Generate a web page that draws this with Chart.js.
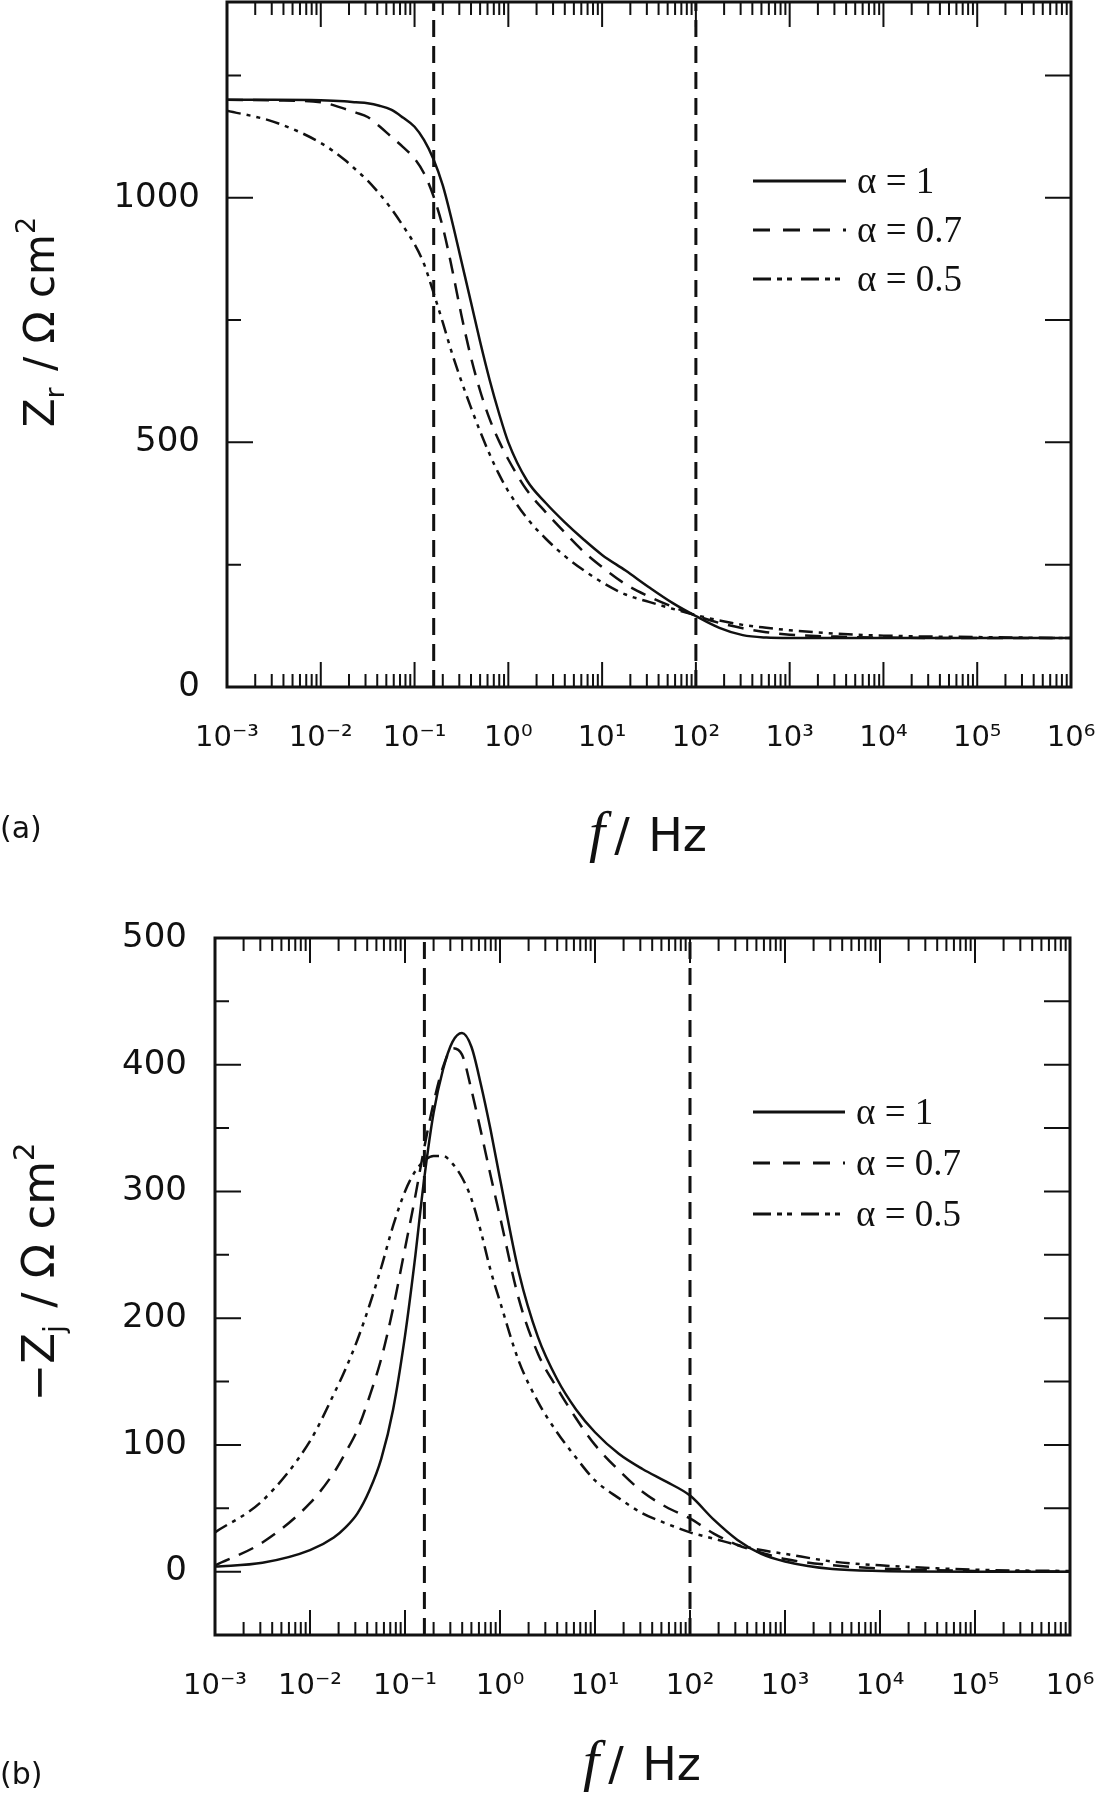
<!DOCTYPE html>
<html>
<head>
<meta charset="utf-8">
<title>Zr and -Zj vs frequency</title>
<script src="https://cdn.jsdelivr.net/npm/chart.js@4.4.1/dist/chart.umd.min.js"></script>
<style>
  html, body { margin: 0; padding: 0; background: #fff; }
  body { width: 1098px; height: 1800px; position: relative; overflow: hidden; }
  canvas { position: absolute; left: 0; }
  #chartA { top: 0; }
  #chartB { top: 870px; }
</style>
</head>
<body>
<canvas id="chartA" width="1098" height="870"></canvas>
<canvas id="chartB" width="1098" height="930"></canvas>
<script>
/* ─── Data ─── */
const freqs = [0.001, 0.00316, 0.01, 0.0178, 0.0237, 0.0316, 0.0422, 0.0562, 0.075, 0.1,
               0.126, 0.158, 0.2, 0.251, 0.316, 0.398, 0.501, 0.631, 0.794, 1,
               1.58, 2.51, 3.98, 6.31, 10, 17.8, 31.6, 56.2, 100, 178,
               316, 562, 1000, 3162, 10000, 100000, 1000000];

const seriesLabels = ["α = 1", "α = 0.7", "α = 0.5"];

// panel (a): Zr / Ω cm²
const zrAlpha1  = [1200, 1200, 1199, 1197, 1195, 1193, 1188, 1180, 1164, 1145,
                   1118, 1080, 1025, 952, 870, 788, 705, 628, 560, 500,
                   422, 376, 337, 302, 270, 238, 204, 172, 145, 121,
                   106, 101, 100, 100, 100, 100, 100];
const zrAlpha07 = [1200, 1199, 1195, 1182, 1174, 1165, 1146, 1125, 1104, 1080,
                   1050, 1005, 940, 855, 760, 675, 605, 548, 503, 465,
                   402, 357, 316, 277, 245, 210, 185, 164, 146, 131,
                   120, 112, 107, 103, 101, 100, 100];
const zrAlpha05 = [1178, 1155, 1112, 1078, 1057, 1035, 1008, 978, 943, 905,
                   865, 808, 745, 682, 625, 572, 522, 476, 435, 400,
                   345, 303, 268, 239, 214, 189, 174, 160, 147, 136,
                   127, 121, 116, 109, 105, 102, 100];

// panel (b): -Zj / Ω cm²
const zjAlpha1  = [4, 7, 17, 27, 35, 46, 64, 89, 128, 186,
                   244, 308, 362, 396, 418, 425, 414, 384, 349, 310,
                   236, 185, 152, 128, 110, 93, 81, 71, 60, 41,
                   25, 14, 8, 2, 0.5, 0, 0];
const zjAlpha07 = [5, 23, 54, 78, 94, 112, 138, 168, 208, 255,
                   293, 333, 370, 398, 413, 408, 380, 347, 313, 280,
                   215, 172, 145, 121, 100, 80, 63, 51, 42, 30,
                   21, 15, 10, 5, 2.5, 0.5, 0];
const zjAlpha05 = [31, 56, 103, 140, 160, 183, 210, 240, 273, 300,
                   315, 324, 328, 328, 322, 311, 294, 268, 238, 213,
                   166, 134, 110, 90, 72, 58, 46, 38, 31, 26,
                   21, 17, 14, 8, 5, 1.5, 0.5];

// vertical marker frequencies (Hz)
const markerFreqs = [0.16, 100];

// axis ticks
const decadeExps = [-3, -2, -1, 0, 1, 2, 3, 4, 5, 6];
const zrTicks = [0, 500, 1000];
const zjTicks = [0, 100, 200, 300, 400, 500];

/* ─── Style ─── */
const INK = "#111";
const SANS = "'DejaVu Sans', sans-serif";
const SERIF = "'Liberation Serif', serif";
const lineDash = [[], [16, 10], [14, 6, 4, 6, 4, 6]];
const legendDash = [[], [17, 13], [18, 6, 5, 5, 5, 9]];

const SUP = { "-": "⁻", "0": "⁰", "1": "¹", "2": "²", "3": "³", "4": "⁴", "5": "⁵", "6": "⁶" };
const toSup = n => String(n).split("").map(c => SUP[c]).join("");

/* ─── Plugins ─── */
// inward ticks on all four sides + frame
const frameTicks = {
  id: "frameTicks",
  afterDatasetsDraw(chart, args, o) {
    const { ctx, chartArea: a } = chart;
    const x = chart.scales.x, y = chart.scales.y;
    ctx.save();
    ctx.strokeStyle = INK;
    ctx.lineWidth = 2;
    ctx.setLineDash([]);
    ctx.beginPath();
    decadeExps.forEach(e => {
      for (let k = 1; k <= 9; k++) {
        const v = k * Math.pow(10, e);
        if (v > x.max * 1.001) break;
        const px = x.getPixelForValue(v);
        const len = k === 1 ? 25 : 13;
        ctx.moveTo(px, a.bottom); ctx.lineTo(px, a.bottom - len);
        ctx.moveTo(px, a.top);    ctx.lineTo(px, a.top + len);
      }
    });
    for (let v = y.min + o.minorStep; v < y.max; v += o.minorStep) {
      const py = y.getPixelForValue(v);
      const major = Math.abs(v % o.majorStep) < 1e-6;
      ctx.moveTo(a.left, py);  ctx.lineTo(a.left + (major ? 26 : 14), py);
      ctx.moveTo(a.right, py); ctx.lineTo(a.right - 26, py);
    }
    ctx.stroke();
    ctx.lineWidth = 3;
    ctx.strokeRect(a.left, a.top, a.right - a.left, a.bottom - a.top);
    ctx.restore();
  }
};

// legend drawn inside the plot
const inlineLegend = {
  id: "inlineLegend",
  afterDraw(chart, args, o) {
    const ctx = chart.ctx;
    ctx.save();
    ctx.strokeStyle = INK;
    ctx.fillStyle = INK;
    ctx.lineWidth = 3;
    ctx.font = "37px " + SERIF;
    ctx.textBaseline = "alphabetic";
    seriesLabels.forEach((label, i) => {
      const yy = o.top + i * o.gap;
      ctx.setLineDash(legendDash[i]);
      ctx.beginPath();
      ctx.moveTo(o.x0, yy);
      ctx.lineTo(o.x1, yy);
      ctx.stroke();
      ctx.setLineDash([]);
      ctx.fillText(label, o.textX, yy + 12);
    });
    ctx.restore();
  }
};

// axis titles with sub/superscripts, panel tag
function drawRuns(ctx, runs, cx, baseY, rotate) {
  const fontOf = r => (r.italic ? "italic " : "") + (r.size || 40) + "px " + (r.family || SANS);
  let total = 0;
  runs.forEach(r => { ctx.font = fontOf(r); r.w = ctx.measureText(r.t).width; total += r.w + (r.gap || 0); });
  ctx.save();
  ctx.translate(cx, baseY);
  if (rotate) ctx.rotate(-Math.PI / 2);
  let sx = -total / 2;
  runs.forEach(r => {
    ctx.font = fontOf(r);
    ctx.fillText(r.t, sx, r.dy || 0);
    sx += r.w + (r.gap || 0);
  });
  ctx.restore();
}

const axisTitles = {
  id: "axisTitles",
  afterDraw(chart, args, o) {
    const ctx = chart.ctx;
    ctx.save();
    ctx.fillStyle = INK;
    ctx.textBaseline = "alphabetic";
    drawRuns(ctx, [
      { t: "f", italic: true, family: SERIF, size: 58, gap: 9 },
      { t: "/ ", size: 46, gap: 4 },
      { t: "Hz", size: 46 }
    ], o.xCx, o.xY, false);
    drawRuns(ctx, o.yRuns, o.yBase, o.yCy, true);
    ctx.font = "30px " + SANS;
    ctx.fillText(o.tag, 0, o.tagY);
    ctx.restore();
  }
};

/* ─── Chart builder ─── */
function makePanel(canvasId, cfg) {
  const curves = [cfg.s1, cfg.s07, cfg.s05].map((vals, i) => ({
    label: seriesLabels[i],
    data: freqs.map((f, j) => ({ x: f, y: vals[j] })),
    borderColor: INK,
    borderWidth: 2.5,
    borderDash: lineDash[i],
    pointRadius: 0,
    fill: false,
    cubicInterpolationMode: "monotone"
  }));
  const markers = markerFreqs.map(f => ({
    label: "marker",
    data: [{ x: f, y: cfg.yMin }, { x: f, y: cfg.yMax }],
    borderColor: INK,
    borderWidth: 3,
    borderDash: [17, 9],
    pointRadius: 0,
    fill: false
  }));

  return new Chart(document.getElementById(canvasId), {
    type: "line",
    data: { datasets: [...curves, ...markers] },
    options: {
      responsive: false,
      animation: false,
      devicePixelRatio: 1,
      layout: { padding: { left: 0, right: cfg.padRight, top: cfg.padTop, bottom: 0 } },
      plugins: {
        legend: { display: false },
        tooltip: { enabled: false },
        frameTicks: { minorStep: cfg.minorStep, majorStep: cfg.majorStep },
        inlineLegend: cfg.legend,
        axisTitles: cfg.titles
      },
      scales: {
        x: {
          type: "logarithmic",
          min: 1e-3, max: 1e6,
          grid: { display: false, drawTicks: false },
          border: { display: false },
          afterBuildTicks: s => { s.ticks = decadeExps.map(e => ({ value: Math.pow(10, e) })); },
          afterFit: s => { s.height = cfg.xHeight; s.paddingLeft = 0; s.paddingRight = 0; },
          ticks: {
            autoSkip: false, maxRotation: 0, padding: 34,
            color: INK, font: { family: SANS, size: 29 },
            callback: v => "10" + toSup(Math.round(Math.log10(v)))
          }
        },
        y: {
          type: "linear",
          min: cfg.yMin, max: cfg.yMax,
          grid: { display: false, drawTicks: false },
          border: { display: false },
          afterBuildTicks: s => { s.ticks = cfg.yTicks.map(v => ({ value: v })); },
          afterFit: s => { s.width = cfg.yWidth; s.paddingTop = 0; s.paddingBottom = 0; },
          ticks: {
            padding: cfg.yPad, color: INK, font: { family: SANS, size: 34 },
            callback: v => String(v)
          }
        }
      }
    },
    plugins: [frameTicks, inlineLegend, axisTitles]
  });
}

/* ─── Boot ─── */
makePanel("chartA", {
  s1: zrAlpha1, s07: zrAlpha07, s05: zrAlpha05,
  yMin: 0, yMax: 1400, yTicks: zrTicks, minorStep: 250, majorStep: 500,
  padTop: 2, padRight: 27, xHeight: 183, yWidth: 227, yPad: 27,
  legend: { x0: 753, x1: 846, textX: 857, top: 181, gap: 49 },
  titles: {
    xCx: 648, xY: 851,
    yBase: 54, yCy: 322,
    yRuns: [
      { t: "Z", size: 42 },
      { t: "r", size: 27, dy: 10, gap: 3 },
      { t: " / Ω cm", size: 42 },
      { t: "2", size: 27, dy: -19 }
    ],
    tag: "(a)", tagY: 838
  }
});

makePanel("chartB", {
  s1: zjAlpha1, s07: zjAlpha07, s05: zjAlpha05,
  yMin: -50, yMax: 500, yTicks: zjTicks, minorStep: 50, majorStep: 100,
  padTop: 68, padRight: 28, xHeight: 165, yWidth: 215, yPad: 28,
  legend: { x0: 753, x1: 845, textX: 856, top: 242, gap: 51 },
  titles: {
    xCx: 642, xY: 910,
    yBase: 54, yCy: 402,
    yRuns: [
      { t: "−Z", size: 45 },
      { t: "j", size: 29, dy: 10, gap: 3 },
      { t: " / Ω cm", size: 45 },
      { t: "2", size: 29, dy: -20 }
    ],
    tag: "(b)", tagY: 914
  }
});
</script>
</body>
</html>
